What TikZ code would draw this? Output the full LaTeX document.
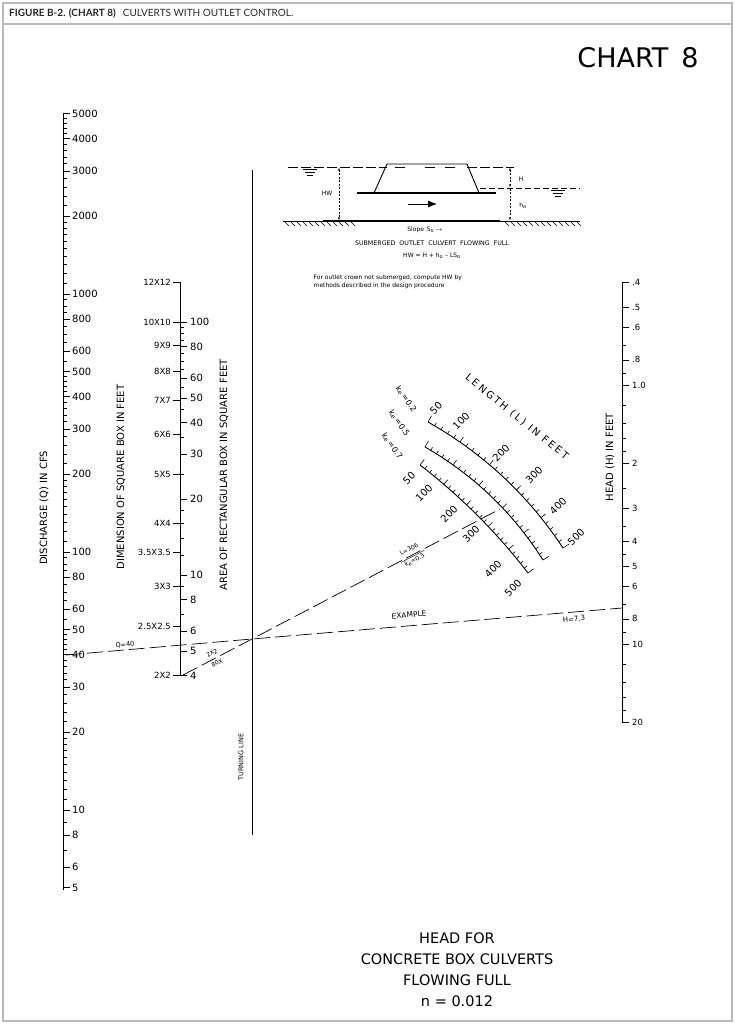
\documentclass[tikz,border=0pt]{standalone}
\usepackage{fontspec}
\setmainfont{DejaVu Sans}
\newfontfamily\hdr{Lato}
\newfontfamily\spaced[LetterSpace=22]{DejaVu Sans}
\usetikzlibrary{arrows.meta}
\newcommand\lscale[6]{%
 \draw[line width=0.9pt,domain=0:1,samples=30,variable=\t] plot ({(1-\t)^2*#1+2*\t*(1-\t)*#3+\t^2*#5},{(1-\t)^2*#2+2*\t*(1-\t)*#4+\t^2*#6});
 \foreach \i in {0,...,25}{%
  \pgfmathsetmacro\tt{\i/25}%
  \pgfmathsetmacro\px{(1-\tt)^2*#1+2*\tt*(1-\tt)*#3+\tt^2*#5}%
  \pgfmathsetmacro\py{(1-\tt)^2*#2+2*\tt*(1-\tt)*#4+\tt^2*#6}%
  \pgfmathsetmacro\tx{2*(1-\tt)*(#3-#1)+2*\tt*(#5-#3)}%
  \pgfmathsetmacro\ty{2*(1-\tt)*(#4-#2)+2*\tt*(#6-#4)}%
  \pgfmathsetmacro\nl{veclen(\tx,\ty)}%
  \pgfmathsetmacro\ll{(\i==0 || \i==25) ? 7 : (mod(\i,5)==0 ? 6 : 3.5)}%
  \draw[line width=0.6pt] (\px,\py) -- ++({\ty/\nl*\ll},{-\tx/\nl*\ll});
 }}
\begin{document}
\begin{tikzpicture}[x=1pt,y=-1pt,
  lbl/.style={font=\fontsize{10}{11}\selectfont,inner sep=1pt},
  small/.style={font=\fontsize{8.5}{10}\selectfont,inner sep=1pt},
  tiny/.style={font=\fontsize{6}{7}\selectfont,inner sep=0.5pt},
  axlbl/.style={font=\fontsize{10}{11}\selectfont,rotate=90},
  ex/.style={line width=0.7pt,dash pattern=on 16pt off 5pt},
  tk/.style={line width=0.6pt}]
\useasboundingbox (0,0) rectangle (735,1024);
% frame
\draw[gray!55,line width=1.2pt] (3,3) rectangle (732,1021);
\draw[gray!55,line width=1.2pt] (3,24) -- (732,24);
\node[anchor=west,inner sep=0,font=\hdr\fontsize{10}{11}\selectfont,text=black!85] (hd) at (9,13.5) {\textbf{FIGURE B-2. (CHART 8)}\hspace{7pt}CULVERTS WITH OUTLET CONTROL.};
\node[font=\fontsize{27}{30}\selectfont] (ch) at (638,58) {CHART\, 8};

% ---------- Q scale
\draw[line width=1pt] (63,114) -- (63,890);
\foreach \v in {5,6,...,20,22,24,...,50,55,60,...,100,110,120,...,200,220,240,...,500,550,600,...,1000,1100,1200,...,2000,2200,2400,...,5000}{
  \pgfmathsetmacro\yy{294+258*(3-log10(\v))}
  \draw[tk] (63,\yy) -- ++(3.5,0);}
\foreach \v in {5000,4000,3000,2000,1000,800,600,500,400,300,200,100,80,60,50,40,30,20,10,8,6,5}{
  \pgfmathsetmacro\yy{294+258*(3-log10(\v))}
  \draw[tk] (63,\yy) -- ++(7,0);
  \node[lbl,anchor=west] at (71,\yy) {\v};}
\node[axlbl] (qlab) at (44,508) {DISCHARGE (Q) IN CFS};

% ---------- box scale
\draw[line width=1pt] (180,282) -- (180,676);
\draw[tk] (180,282) -- ++(-6,0);
\foreach \d/\t in {12/12X12,10/10X10,9/9X9,8/8X8,7/7X7,6/6X6,5/5X5,4/4X4,3.5/3.5X3.5,3/3X3,2.5/2.5X2.5,2/2X2}{
  \pgfmathsetmacro\yy{322+253*(2-log10(\d*\d))}
  \draw[tk] (180,\yy) -- ++(-7,0);
  \node[small,anchor=east] at (172,\yy) {\t};}
\foreach \v in {4,5,...,10,12,14,...,20,25,30,...,100}{
  \pgfmathsetmacro\yy{322+253*(2-log10(\v))}
  \draw[tk] (180,\yy) -- ++(3.5,0);}
\foreach \v in {100,80,60,50,40,30,20,10,8,6,5,4}{
  \pgfmathsetmacro\yy{322+253*(2-log10(\v))}
  \draw[tk] (180,\yy) -- ++(7,0);
  \node[lbl,anchor=west] at (189,\yy) {\v};}
\node[axlbl] (dlab) at (121,477) {DIMENSION OF SQUARE BOX IN FEET};
\node[axlbl] (alab) at (224,475) {AREA OF RECTANGULAR BOX IN SQUARE FEET};

% ---------- turning line
\draw[line width=1pt] (252,170) -- (252,835);
\node[axlbl,font=\fontsize{6.5}{7}\selectfont] (tl) at (241,757) {TURNING LINE};

% ---------- H scale
\draw[line width=1pt] (622,282) -- (622,722);
\foreach \v in {0.4,0.5,0.6,0.7,0.8,0.9,1,1.2,1.4,1.6,1.8,2,2.5,3,3.5,4,4.5,5,6,7,8,9,10,12,14,16,18,20}{
  \pgfmathsetmacro\yy{385+259*log10(\v)}
  \draw[tk] (622,\yy) -- ++(3.5,0);}
\foreach \v/\t in {0.4/.4,0.5/.5,0.6/.6,0.8/.8,1/1.0,2/2,3/3,4/4,5/5,6/6,8/8,10/10,20/20}{
  \pgfmathsetmacro\yy{385+259*log10(\v)}
  \draw[tk] (622,\yy) -- ++(7,0);
  \node[small,anchor=west] at (631,\yy) {\t};}
\node[axlbl] (hlab) at (610,457) {HEAD (H) IN FEET};

% ---------- length scales
\lscale{428}{422}{511}{469}{563}{548}
\lscale{425}{447}{498}{489}{543}{560}
\lscale{420}{465}{481}{512}{528}{573}
\node[font=\spaced\fontsize{10}{11}\selectfont,rotate=-39] (len) at (517,417) {LENGTH (L) IN FEET};
\foreach \p/\t in {{436,408}/50,{461,421}/100,{501,453}/200,{534,475}/300,{558,506}/400,{576,537}/500,
                   {409,478}/50,{424,493}/100,{449,514}/200,{471,534}/300,{493,569}/400,{513,588}/500}{
  \node[lbl,rotate=45] at (\p) {\t};}
\node[small,font=\fontsize{8}{9}\selectfont,rotate=-55] (k2) at (406,399) {k\textsubscript{e}\,=0.2};
\node[small,font=\fontsize{8}{9}\selectfont,rotate=-55] (k5) at (399,423) {k\textsubscript{e}\,=0.5};
\node[small,font=\fontsize{8}{9}\selectfont,rotate=-55] (k7) at (392,446) {k\textsubscript{e}\,=0.7};

% ---------- example lines
\coordinate (Q40) at (66,655);
\coordinate (TP) at (252,639);
\coordinate (H73) at (622,608);
\coordinate (B2) at (183,675);
\coordinate (L306) at (500,509);
\draw[ex] (Q40) -- (TP) -- (H73);
\draw[ex] (B2) -- (TP) -- (L306);
\node[tiny,font=\fontsize{6.5}{7}\selectfont,rotate=5] at (125,645) {Q=40};
\node[tiny,rotate=27.5] at (212,653) {2X2};
\node[tiny,rotate=27.5] at (217,663) {80X};
\node[tiny,rotate=27.5,align=center] at (412,555) {L=306\\[-1pt]\rule{26pt}{0.4pt}\\[-1pt]k\textsubscript{e}=0.5};
\node[tiny,font=\fontsize{7.5}{8}\selectfont,rotate=5] at (409,615) {EXAMPLE};
\node[tiny,font=\fontsize{7}{8}\selectfont,rotate=5] at (574,619) {H=7.3};

% ---------- inset
\begin{scope}[line width=0.6pt]
\draw[dash pattern=on 10pt off 3pt] (288,167) -- (387,167);
\draw[dash pattern=on 10pt off 3pt] (467,167) -- (510,167);
\draw[line width=0.9pt] (374,193) -- (387,164) -- (467,164) -- (479,193);
\draw[line width=0.5pt] (395,167) -- (405,167) (425,167)--(435,167) (445,167)--(455,167);
\draw[line width=1.6pt] (357,193) -- (496,193);
\draw[line width=1.6pt] (323,221) -- (500,221);
\draw (283,221) -- (323,221) (500,221) -- (580,221);
\foreach \x in {285,291,...,355}{\draw[line width=0.4pt] (\x,222) -- ++(4,4);}
\foreach \x in {505,511,...,578}{\draw[line width=0.4pt] (\x,222) -- ++(4,4);}
\draw[dash pattern=on 6pt off 3pt] (480,188) -- (580,188);
\draw[line width=0.4pt] (303,169) -- (317,169) (305,172) -- (315,172) (307,175) -- (313,175);
\draw[line width=0.4pt] (551,190) -- (565,190) (553,193) -- (563,193) (555,196) -- (561,196);
\draw[dash pattern=on 2pt off 1.5pt,{Stealth[length=3pt]}-{Stealth[length=3pt]}] (339,168) -- (339,220);
\draw[dash pattern=on 2pt off 1.5pt,{Stealth[length=3pt]}-{Stealth[length=3pt]}] (510,168) -- (510,187);
\draw[dash pattern=on 2pt off 1.5pt,-{Stealth[length=3pt]}] (510,189) -- (510,220);
\draw (506,167) -- (514,167) (506,221) -- (514,221);
\draw[line width=0.8pt,-{Latex[length=9pt,width=7pt]}] (408,204) -- (437,204);
\end{scope}
\node[tiny] (hw) at (327,193) {HW};
\node[tiny] (hh) at (521,179) {H};
\node[tiny] (ho) at (523,206) {h\textsubscript{o}};
\node[tiny] (sl) at (425,230) {Slope\, S\textsubscript{o}\,$\rightarrow$};
\node[tiny,font=\fontsize{6.3}{7}\selectfont] (sub) at (432,243) {SUBMERGED\ \ OUTLET\ \ CULVERT\ \ FLOWING\ \ FULL};
\node[tiny] (eq) at (432,256) {HW = H + h\textsubscript{o} -- LS\textsubscript{o}};
\node[tiny,anchor=west,align=left,font=\fontsize{6}{7.5}\selectfont] (note) at (313,282) {For outlet crown not submerged, compute HW by\\methods described in the design procedure};

% ---------- title
\node[font=\fontsize{14.5}{21}\selectfont,align=center] (ttl) at (457,970) {HEAD FOR\\CONCRETE BOX CULVERTS\\FLOWING FULL\\n = 0.012};
\end{tikzpicture}
\end{document}
